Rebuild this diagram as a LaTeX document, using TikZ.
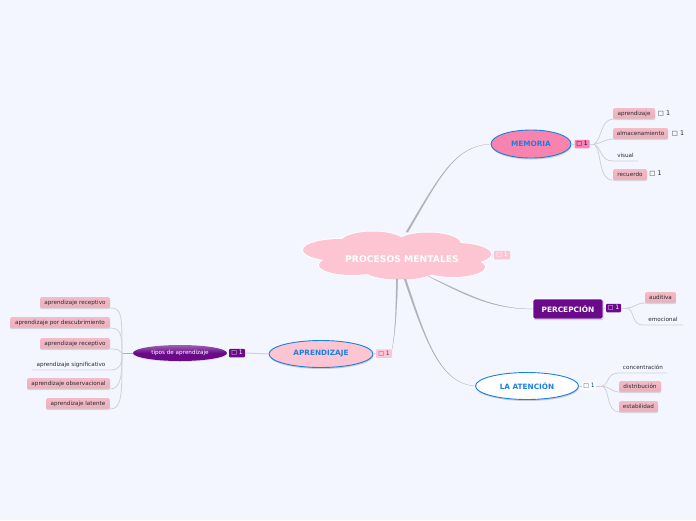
\documentclass[tikz,border=0pt]{standalone}
\usepackage{fontspec}
\setmainfont{DejaVu Sans}
\usetikzlibrary{shadows,shapes.geometric,calc}
\definecolor{bgc}{HTML}{F4F6FF}
\definecolor{pinkc}{HTML}{FDC5D1}
\definecolor{hotc}{HTML}{F783AE}
\definecolor{purp}{HTML}{6A0A8A}
\definecolor{bluec}{HTML}{1B7FE3}
\definecolor{linec}{HTML}{B0B2BA}
\definecolor{sublc}{HTML}{CFD1DC}
\definecolor{txtc}{HTML}{2A2A30}
\definecolor{leafpink}{HTML}{E9B0BA}
\tikzset{
  x=1pt,y=-1pt,
  every node/.style={inner sep=0pt,outer sep=0pt},
  topic/.style={ellipse,draw=bluec,line width=0.9pt,text=bluec,font=\bfseries\fontsize{7.3}{8}\selectfont,
    drop shadow={shadow xshift=0.5pt,shadow yshift=-1.5pt,opacity=.35}},
  leaf/.style={rounded corners=1.5pt,top color=leafpink!45!pinkc,bottom color=leafpink,minimum height=11pt,text=txtc,
    text height=4.5pt,text depth=0.5pt,font=\fontsize{5.65}{6}\selectfont,
    drop shadow={shadow xshift=0pt,shadow yshift=-1pt,opacity=.22}},
  plain/.style={minimum height=11pt,text=txtc,text height=4.5pt,text depth=0.5pt,font=\fontsize{5.65}{6}\selectfont},
  badge/.style={rounded corners=1pt,minimum height=8.5pt,font=\fontsize{6}{6}\selectfont},
  note/.style={text=txtc,font=\fontsize{6.4}{6}\selectfont},
  conn/.style={fill=linec,draw=linec,line width=0.2pt,line join=round},
  sub/.style={draw=sublc,line width=0.8pt},
  main/.style={draw=white,line width=1.6pt,fill=pinkc},
  lobe/.style={fill=pinkc}
}
\begin{document}
\begin{tikzpicture}
\useasboundingbox[fill=bgc] (0,0) rectangle (696,520);

% named anchor points
\coordinate (cmem) at (407,232);
\coordinate (cper) at (429,276);
\coordinate (cate) at (405,279);
\coordinate (capr) at (397,279);
\coordinate (memfork) at (594,144);
\coordinate (perfork) at (627,308);
\coordinate (atefork) at (602,386);
\coordinate (tipfork) at (122,353);

% topics
\node[topic,fill=hotc,minimum width=80pt,minimum height=28pt] (mem) at (531,144) {MEMORIA};
\node[rounded corners=1.5pt,fill=purp,draw=white,line width=0.8pt,minimum width=70pt,minimum height=20pt,text=white,
  font=\bfseries\fontsize{7.4}{8}\selectfont,drop shadow={shadow xshift=0.5pt,shadow yshift=-1.2pt,opacity=.35}] (per) at (568,309) {PERCEPCIÓN};
\node[topic,fill=white,minimum width=103pt,minimum height=27pt] (ate) at (527,386) {LA ATENCIÓN};
\node[topic,fill=pinkc,minimum width=104pt,minimum height=27pt] (apr) at (321,354) {APRENDIZAJE};
\node[ellipse,top color=purp!65!white,bottom color=purp,middle color=purp,minimum width=94pt,minimum height=16pt,text=white,
  font=\fontsize{5.65}{6}\selectfont,drop shadow={shadow xshift=0pt,shadow yshift=-1pt,opacity=.15}] (tip) at (180,353) {tipos de aprendizaje};

% badges
\node[badge,fill=pinkc,text=white,minimum width=16pt] (cenb) at (502,255) {□ 1};
\node[badge,fill=hotc,text=blue!55!black,minimum width=15pt] (memb) at (582,144) {□ 1};
\node[badge,fill=purp,text=white,minimum width=15pt] (perb) at (613.5,308) {□ 1};
\node[badge,fill=white,text=bluec!60!black,minimum width=14pt] (ateb) at (589,386) {□ 1};
\node[badge,fill=pinkc,text=blue!50!gray,minimum width=16pt] (aprb) at (384,353.5) {□ 1};
\node[badge,fill=purp,text=white,minimum width=16pt] (tipb) at (237,353) {□ 1};

% cloud
\foreach \cx/\cy/\rx/\ry in {340/250/37/11, 373/243/33/11.5, 428/244/33/11.5, 456/254/35/11, 453/267/32/10, 400/270/36/9.5, 352/265/33/10}
  \draw[main] (\cx,\cy) ellipse [x radius=\rx,y radius=\ry];
\foreach \cx/\cy/\rx/\ry in {340/250/37/11, 373/243/33/11.5, 428/244/33/11.5, 456/254/35/11, 453/267/32/10, 400/270/36/9.5, 352/265/33/10}
  \fill[lobe] (\cx,\cy) ellipse [x radius=\rx,y radius=\ry];
\fill[lobe] (345,245) rectangle (460,270);
\node[text=white,font=\bfseries\fontsize{9.2}{10}\selectfont] (cen) at (402,259) {PROCESOS MENTALES};

% leaves: memory
\node[leaf,minimum width=42pt] (l1) at (634,113.5) {aprendizaje};
\node[leaf,minimum width=55pt] (l2) at (640.5,133.5) {almacenamiento};
\node[plain,minimum width=25pt] (l3) at (625.5,155.5) {visual};
\node[leaf,minimum width=34pt] (l4) at (630,174.5) {recuerdo};
\node[note] (n1) at (664,113.5) {□ 1};
\node[note] (n2) at (678,133.5) {□ 1};
\node[note] (n4) at (655.5,174) {□ 1};

% leaves: perception
\node[leaf,minimum width=31pt] (p1) at (660.5,297.5) {auditiva};
\node[plain,minimum width=40pt] (p2) at (663,319.5) {emocional};

% leaves: attention
\node[plain,minimum width=48pt] (a1) at (643,367.5) {concentración};
\node[leaf,minimum width=42pt] (a2) at (640,386.5) {distribución};
\node[leaf,minimum width=39pt] (a3) at (638.5,406.5) {estabilidad};

% leaves: types
\node[leaf,minimum width=70pt] (t1) at (75,302.5) {aprendizaje receptivo};
\node[leaf,minimum width=100pt] (t2) at (60,322.5) {aprendizaje por descubrimiento};
\node[leaf,minimum width=70pt] (t3) at (75,343.5) {aprendizaje receptivo};
\node[plain,minimum width=78pt] (t4) at (71,364.5) {aprendizaje significativo};
\node[leaf,minimum width=83pt] (t5) at (68.5,383.5) {aprendizaje observacional};
\node[leaf,minimum width=64pt] (t6) at (78,403.5) {aprendizaje latente};

% central connectors
\draw[conn] ([xshift=-1pt]cmem) .. controls (440,175) and (455,146) .. (mem.west) .. controls (455,146) and (441,175) .. ([xshift=1pt]cmem) -- cycle;
\draw[conn] ([xshift=-1pt]cper) .. controls (470,298) and (495,309) .. (per.west) .. controls (495,309) and (471,296) .. ([xshift=1pt,yshift=-1pt]cper) -- cycle;
\draw[conn] ([xshift=-1pt]cate) .. controls (425,340) and (440,384) .. (ate.west) .. controls (440,384) and (426,340) .. ([xshift=1pt]cate) -- cycle;
\draw[conn] ([xshift=-0.8pt]capr) .. controls (396,310) and (395,335) .. (aprb.north east) .. controls (395,335) and (397,310) .. ([xshift=0.8pt]capr) -- cycle;
\draw[sub,line width=1pt] (apr.west) -- (tipb.east);
\draw[sub] (mem.east) -- (memb.west);
\draw[sub] (per.east) -- (perb.west);
\draw[sub] (ate.east) -- (ateb.west);
\draw[sub] (apr.east) -- (aprb.west);

% memory branches
\draw[sub] (memb.east) -- (memfork);
\draw[sub] (memfork) .. controls (602,140) and (600,120) .. (l1.south west) -- (l1.south east);
\draw[sub] (memfork) .. controls (600,144) and (602,140) .. (l2.south west) -- (l2.south east);
\draw[sub] (memfork) .. controls (602,148) and (600,161) .. (l3.south west) -- (l3.south east);
\draw[sub] (memfork) .. controls (602,150) and (598,181) .. (l4.south west) -- (l4.south east);

% perception branches
\draw[sub] (perb.east) -- (perfork);
\draw[sub] (perfork) .. controls (634,308) and (636,303) .. (p1.south west) -- (p1.south east);
\draw[sub] (perfork) .. controls (635,310) and (631,325) .. (p2.south west) -- (p2.south east);

% attention branches
\draw[sub] (ateb.east) -- (atefork);
\draw[sub] (atefork) .. controls (610,384) and (606,373) .. (a1.south west) -- (a1.south east);
\draw[sub] (atefork) .. controls (608,386) and (612,392) .. (a2.south west) -- (a2.south east);
\draw[sub] (atefork) .. controls (610,388) and (606,412) .. (a3.south west) -- (a3.south east);

% type branches
\draw[draw=linec,line width=0.6pt] (tip.west) -- (tipfork);
\draw[sub] (tipfork) .. controls (122,315) and (122,308) .. (t1.south east) -- (t1.south west);
\draw[sub] (tipfork) .. controls (122,335) and (121,328) .. (t2.south east) -- (t2.south west);
\draw[sub] (tipfork) .. controls (120,350) and (118,349) .. (t3.south east) -- (t3.south west);
\draw[sub] (tipfork) .. controls (122,365) and (120,370) .. (t4.south east) -- (t4.south west);
\draw[sub] (tipfork) .. controls (122,375) and (121,389) .. (t5.south east) -- (t5.south west);
\draw[sub] (tipfork) .. controls (122,395) and (122,409) .. (t6.south east) -- (t6.south west);
\end{tikzpicture}
\end{document}
